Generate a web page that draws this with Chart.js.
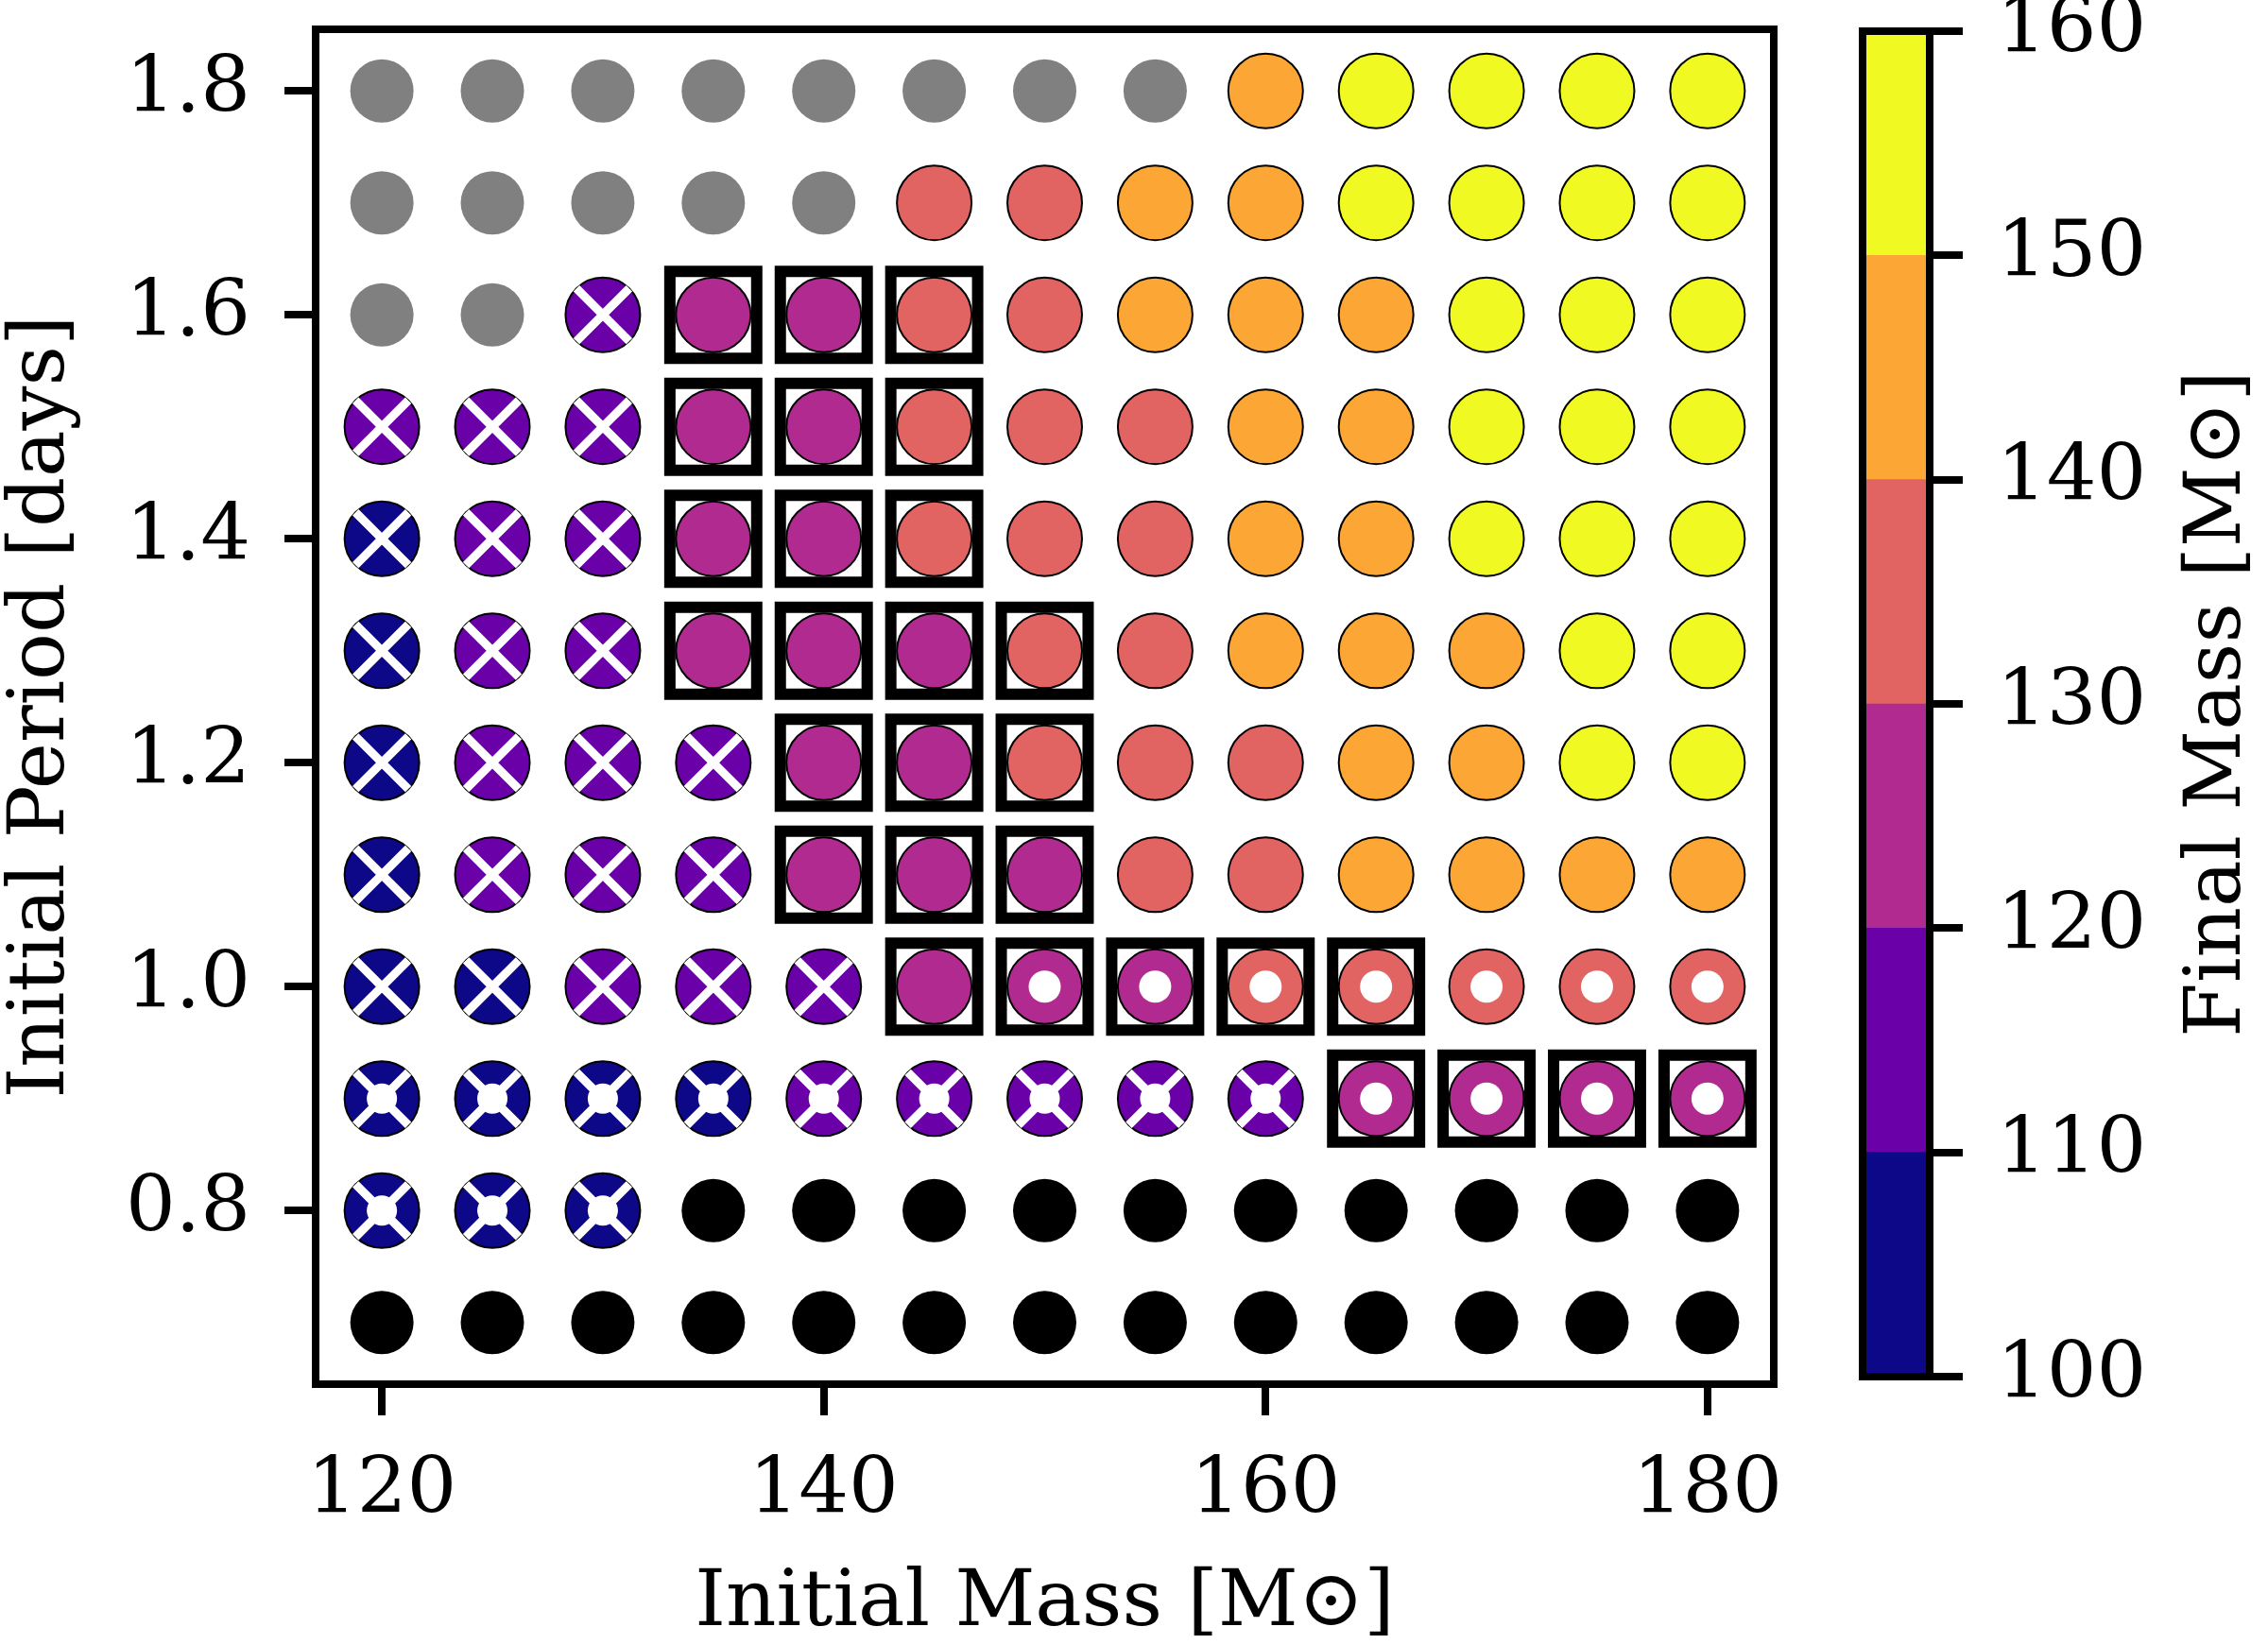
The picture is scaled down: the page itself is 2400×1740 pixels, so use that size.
<!DOCTYPE html>
<html>
<head>
<meta charset="utf-8">
<title>Final mass grid</title>
<script src="https://cdn.jsdelivr.net/npm/chart.js@4/dist/chart.umd.min.js"></script>
<style>
  html, body { margin: 0; padding: 0; background: #fff; }
  #wrap { position: relative; width: 2400px; height: 1740px; }
  #grid { position: absolute; left: 0; top: 0; }
  #cbar { position: absolute; left: 1940px; top: 0; }
</style>
</head>
<body>
<div id="wrap">
  <canvas id="grid" width="1940" height="1740"></canvas>
  <canvas id="cbar" width="460" height="1740"></canvas>
</div>
<script>
// grid of models
const initialMass = [120, 125, 130, 135, 140, 145, 150, 155, 160, 165, 170, 175, 180];
const initialPeriod = [0.7, 0.8, 0.9, 1.0, 1.1, 1.2, 1.3, 1.4, 1.5, 1.6, 1.7, 1.8];

const finalMass = [
  [null, null, null, null, null, null, null, null, null, null, null, null, null],
  [105, 105, 105, null, null, null, null, null, null, null, null, null, null],
  [105, 105, 105, 105, 115, 115, 115, 115, 115, 125, 125, 125, 125],
  [105, 105, 115, 115, 115, 125, 125, 125, 135, 135, 135, 135, 135],
  [105, 115, 115, 115, 125, 125, 125, 135, 135, 145, 145, 145, 145],
  [105, 115, 115, 115, 125, 125, 135, 135, 135, 145, 145, 155, 155],
  [105, 115, 115, 125, 125, 125, 135, 135, 145, 145, 145, 155, 155],
  [105, 115, 115, 125, 125, 135, 135, 135, 145, 145, 155, 155, 155],
  [115, 115, 115, 125, 125, 135, 135, 135, 145, 145, 155, 155, 155],
  [null, null, 115, 125, 125, 135, 135, 145, 145, 145, 155, 155, 155],
  [null, null, null, null, null, 135, 135, 145, 145, 155, 155, 155, 155],
  [null, null, null, null, null, null, null, null, 145, 155, 155, 155, 155]
];

// marker kind: B black, G grey, X cross, H cross with hole, D white dot, O plain
const outcome = [
  'BBBBBBBBBBBBB',
  'HHHBBBBBBBBBB',
  'HHHHHHHHHDDDD',
  'XXXXXODDDDDDD',
  'XXXXOOOOOOOOO',
  'XXXXOOOOOOOOO',
  'XXXOOOOOOOOOO',
  'XXXOOOOOOOOOO',
  'XXXOOOOOOOOOO',
  'GGXOOOOOOOOOO',
  'GGGGGOOOOOOOO',
  'GGGGGGGGOOOOO'
];

// square frame around the model
const boxed = [
  '0000000000000',
  '0000000000000',
  '0000000001111',
  '0000011111000',
  '0000111000000',
  '0000111000000',
  '0001111000000',
  '0001110000000',
  '0001110000000',
  '0001110000000',
  '0000000000000',
  '0000000000000'
];

// colour bar
const boundaries = [100, 110, 120, 130, 140, 150, 160];
const binColors = ['#0d0887', '#6a00a8', '#b12a90', '#e16462', '#fca636', '#f0f921'];

const massTicks = [120, 140, 160, 180];
const periodTicks = [0.8, 1.0, 1.2, 1.4, 1.6, 1.8];

const xTitle = 'Initial Mass [M\u2299]';
const yTitle = 'Initial Period [days]';
const cbarTitle = 'Final Mass [M\u2299]';

const FONT = "'DejaVu Serif', serif";
Chart.defaults.font.family = FONT;
Chart.defaults.font.size = 83;
Chart.defaults.color = '#000';

function colorOf(m) {
    for (let k = 0; k < binColors.length; k++) {
        if (m >= boundaries[k] && m < boundaries[k + 1]) return binColors[k];
    }
    return '#808080';
}

function cells(test) {
    const pts = [];
    initialPeriod.forEach((p, i) => {
        initialMass.forEach((m, j) => {
            if (test(i, j)) pts.push({ x: m, y: p, m: finalMass[i][j] });
        });
    });
    return pts;
}
const kindIn = (kinds) => (i, j) => kinds.includes(outcome[i][j]);

// fixed axis size, no extra room for overhanging labels
function fixSize(w, h) {
    return (s) => {
        if (w) s.width = w;
        if (h) s.height = h;
        s.paddingTop = 0;
        s.paddingBottom = 0;
        s.paddingLeft = 0;
        s.paddingRight = 0;
    };
}

// frame round the plotting area
const framePlugin = {
    id: 'frame',
    afterDraw(chart) {
        const a = chart.chartArea;
        const ctx = chart.ctx;
        ctx.save();
        ctx.lineWidth = 8;
        ctx.strokeStyle = '#000';
        ctx.strokeRect(a.left, a.top, a.right - a.left, a.bottom - a.top);
        ctx.restore();
    }
};

const tickGrid = (len) => ({
    drawOnChartArea: false,
    drawTicks: true,
    tickLength: len,
    lineWidth: 8,
    color: '#000'
});

new Chart(document.getElementById('grid'), {
    type: 'scatter',
    data: {
        datasets: [
            {
                data: cells((i, j) => boxed[i][j] === '1'),
                pointStyle: 'rect',
                pointRadius: 65,
                pointBorderWidth: 12,
                pointBorderColor: '#000',
                pointBackgroundColor: 'rgba(0,0,0,0)',
                order: 5
            },
            {
                data: cells(kindIn('XHDO')),
                pointStyle: 'circle',
                pointRadius: 39.5,
                pointBorderWidth: 2,
                pointBorderColor: '#000',
                pointBackgroundColor: (c) => colorOf(c.raw.m),
                order: 4
            },
            {
                data: cells(kindIn('G')),
                pointRadius: 33.5,
                pointBorderWidth: 0,
                pointBackgroundColor: '#808080',
                order: 4
            },
            {
                data: cells(kindIn('B')),
                pointRadius: 33.5,
                pointBorderWidth: 0,
                pointBackgroundColor: '#000',
                order: 4
            },
            {
                data: cells(kindIn('XH')),
                pointStyle: 'crossRot',
                pointRadius: 39.5,
                pointBorderWidth: 9,
                pointBorderColor: '#fff',
                order: 2
            },
            {
                data: cells(kindIn('H')),
                pointRadius: 16,
                pointBorderWidth: 0,
                pointBackgroundColor: '#fff',
                order: 1
            },
            {
                data: cells(kindIn('D')),
                pointRadius: 17,
                pointBorderWidth: 0,
                pointBackgroundColor: '#fff',
                order: 1
            }
        ]
    },
    options: {
        responsive: false,
        animation: false,
        events: [],
        devicePixelRatio: 1,
        layout: { autoPadding: false, padding: { top: 31, right: 63, left: 0, bottom: 0 } },
        plugins: { legend: { display: false }, tooltip: { enabled: false } },
        scales: {
            x: {
                type: 'linear',
                min: 117,
                max: 183,
                afterFit: fixSize(0, 275),
                afterBuildTicks: (s) => { s.ticks = massTicks.map(v => ({ value: v })); },
                ticks: { padding: 32 },
                grid: tickGrid(33),
                border: { display: true, width: 8, color: '#000' },
                title: { display: true, text: xTitle, padding: 0, font: { size: 83, lineHeight: 1.0 } }
            },
            y: {
                type: 'linear',
                min: 0.645,
                max: 1.855,
                afterFit: fixSize(334, 0),
                afterBuildTicks: (s) => { s.ticks = periodTicks.map(v => ({ value: v })); },
                ticks: { padding: 36, callback: (v) => Number(v).toFixed(1) },
                grid: tickGrid(33),
                border: { display: true, width: 8, color: '#000' },
                title: { display: true, text: yTitle, padding: 0, font: { size: 83, lineHeight: 1.1 } }
            }
        }
    },
    plugins: [framePlugin]
});

// colour bar title reads bottom to top
const cbarTitlePlugin = {
    id: 'cbarTitle',
    afterDraw(chart) {
        const ctx = chart.ctx;
        ctx.save();
        ctx.translate(chart.width - 52, (chart.chartArea.top + chart.chartArea.bottom) / 2);
        ctx.rotate(-Math.PI / 2);
        ctx.font = '83px ' + FONT;
        ctx.fillStyle = '#000';
        ctx.textAlign = 'center';
        ctx.textBaseline = 'middle';
        ctx.fillText(cbarTitle, 0, 0);
        ctx.restore();
    }
};

new Chart(document.getElementById('cbar'), {
    type: 'bar',
    data: {
        labels: [''],
        datasets: binColors.map((c, k) => ({
            data: [[boundaries[k], boundaries[k + 1]]],
            backgroundColor: c,
            borderWidth: 0,
            grouped: false,
            barPercentage: 1,
            categoryPercentage: 1
        }))
    },
    options: {
        responsive: false,
        animation: false,
        events: [],
        devicePixelRatio: 1,
        layout: { autoPadding: false, padding: { top: 33, bottom: 283, left: 31, right: 0 } },
        plugins: { legend: { display: false }, tooltip: { enabled: false } },
        scales: {
            x: { display: false },
            y: {
                position: 'right',
                min: boundaries[0],
                max: boundaries[boundaries.length - 1],
                afterFit: fixSize(358, 0),
                afterBuildTicks: (s) => { s.ticks = boundaries.map(v => ({ value: v })); },
                ticks: { padding: 36 },
                grid: tickGrid(35),
                border: { display: true, width: 8, color: '#000' }
            }
        }
    },
    plugins: [framePlugin, cbarTitlePlugin]
});
</script>
</body>
</html>
